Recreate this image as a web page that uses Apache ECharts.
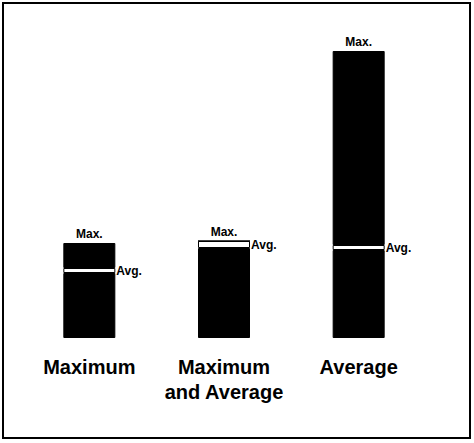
<!DOCTYPE html>
<html><head><meta charset="utf-8">
<script src="https://cdn.jsdelivr.net/npm/echarts@6/dist/echarts.min.js"></script>
<style>html,body{margin:0;padding:0;background:#fff}#c{width:474px;height:443px}</style>
</head><body><div id="c"></div>
<script>
var categories = ['Maximum', 'Maximum\nand Average', 'Average'];
var maxValues = [95, 97, 287];
var avgValues = [68, 93, 91];

var lower = [], band = [], upper = [];
for (var i = 0; i < categories.length; i++) {
  var lo = avgValues[i] - 3;
  var b = (maxValues[i] - avgValues[i] < 6) ? maxValues[i] - lo : 5;
  lower.push(lo); band.push(b); upper.push(maxValues[i] - lo - b);
}

var font = '"Liberation Sans", Arial, sans-serif';
var chart = echarts.init(document.getElementById('c'), null, { renderer: 'svg' });
chart.setOption({
  animation: false,
  grid: { left: 22, right: 48, top: 51, bottom: 105 },
  xAxis: {
    type: 'category', data: categories,
    axisLine: { show: false }, axisTick: { show: false },
    axisLabel: { interval: 0, hideOverlap: false, color: '#000', fontSize: 20, fontWeight: 'bold', fontFamily: font, margin: 16, lineHeight: 25 }
  },
  yAxis: { type: 'value', min: 0, max: 287, show: false },
  graphic: [{ type: 'rect', shape: { x: 3, y: 3, width: 467, height: 435 }, style: { fill: 'none', stroke: '#000', lineWidth: 2 } }],
  series: [
    { type: 'bar', stack: 's', data: lower, barWidth: 52, itemStyle: { color: '#000', borderColor: '#000', borderWidth: 1 } },
    { type: 'bar', stack: 's', data: band, itemStyle: { color: '#fff', borderColor: '#000', borderWidth: 1 },
      label: { show: true, position: 'right', distance: 1, color: '#000', fontSize: 12, fontWeight: 'bold', fontFamily: font, formatter: 'Avg.' } },
    { type: 'bar', stack: 's', data: upper, itemStyle: { color: '#000', borderColor: '#000', borderWidth: 1 },
      label: { show: true, position: 'top', distance: 3, color: '#000', fontSize: 12, fontWeight: 'bold', fontFamily: font, formatter: 'Max.' } }
  ]
});
</script></body></html>
